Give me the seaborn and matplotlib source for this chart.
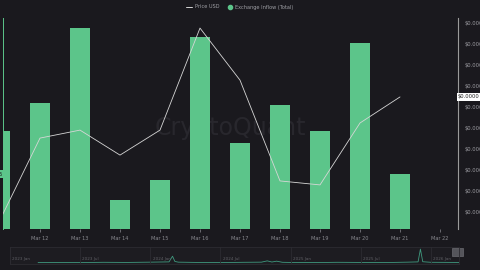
import numpy as np
import pandas as pd
import seaborn as sns
import matplotlib.pyplot as plt
from matplotlib.lines import Line2D
from matplotlib.patches import Rectangle

dates = ["Mar 11", "Mar 12", "Mar 13", "Mar 14", "Mar 15", "Mar 16",
         "Mar 17", "Mar 18", "Mar 19", "Mar 20", "Mar 21", "Mar 22"]
inflow = [98, 126, 201, 29, 49, 192, 86, 124, 98, 186, 55]
price_usd = [6.3e-8, 45.3e-8, 49.1e-8, 37.2e-8, 49.1e-8, 97.7e-8,
             72.9e-8, 24.9e-8, 23.0e-8, 52.5e-8, 64.9e-8]
price_ticks = [1e-7, 2e-7, 3e-7, 4e-7, 5e-7, 6e-7, 7e-7, 8e-7, 9e-7, 10e-7]

# navigator overview (months since 2023 Jan)
nav_months = [2.4, 4, 6, 8, 10, 12, 13.6, 13.9, 14.1, 14.4, 16, 18, 20, 21.5, 22.0,
              22.4, 22.8, 23.3, 24, 26, 28, 30, 32, 34, 34.9, 35.1, 35.3, 36, 38.4]
nav_values = [1.0, 1.1, 1.0, 1.2, 1.1, 1.3, 1.5, 5.5, 1.8, 1.3, 1.1, 1.0, 1.2, 1.3, 2.2,
              1.4, 2.0, 1.2, 1.1, 1.0, 1.2, 1.1, 1.0, 1.3, 1.5, 10.5, 1.6, 1.2, 1.1]
nav_labels = ["2023 Jan", "2023 Jul", "2024 Jan", "2024 Jul",
              "2025 Jan", "2025 Jul", "2026 Jan"]

bg = "#1a191e"
green = "#5cc58a"
sns.set_theme(style="dark")

fig = plt.figure(figsize=(4.8, 2.7), dpi=100, facecolor=bg)
ax = fig.add_axes([3 / 480, 1 - 229 / 270, 455 / 480, 211 / 270])
ax.set_facecolor(bg)

df = pd.DataFrame({"date": dates[:len(inflow)], "inflow": inflow})
sns.barplot(data=df, x="date", y="inflow", order=dates, color=green,
            saturation=1, width=0.5, edgecolor=green, linewidth=0, ax=ax)
ax.set_xlim(0.075, 11.45)
ax.set_ylim(0, 211)
ax.set_xlabel("")
ax.set_ylabel("")
ax.set_yticks([])
ax.tick_params(axis="x", colors="#8a8a90", labelsize=3.6, length=2, width=0.5,
               pad=3, bottom=True, direction="out")
for lab in ax.get_xticklabels():
    lab.set_color("#8a8a90")
for s in ["top", "right", "bottom"]:
    ax.spines[s].set_visible(False)
ax.spines["left"].set_color(green)
ax.spines["left"].set_linewidth(0.7)
ax.text(0.0, inflow[-1], "55", transform=ax.get_yaxis_transform(), ha="right",
        va="center", fontsize=3.5, color=bg, clip_on=False,
        bbox=dict(boxstyle="square,pad=0.3", fc=green, ec="none"))
ax.text(0.5, 0.48, "CryptoQuant", transform=ax.transAxes, ha="center", va="center",
        fontsize=17, color="#28272d", zorder=0)

ax2 = ax.twinx()
sns.lineplot(x=np.arange(len(price_usd)), y=price_usd, color="#d6d6d6",
             linewidth=0.6, ax=ax2)
ax2.set_ylim(0.2e-7, 10.25e-7)
ax2.set_yticks(price_ticks)
ax2.set_yticklabels([f"${v:.4f}" for v in price_ticks])
ax2.tick_params(axis="y", colors="#9a9aa0", labelsize=3.8, length=0, pad=5)
for s in ["top", "left", "bottom"]:
    ax2.spines[s].set_visible(False)
ax2.spines["right"].set_color("#9a9a9a")
ax2.spines["right"].set_linewidth(0.8)
ax2.text(1.0, price_usd[-1], f"${price_usd[-1]:.4f}", transform=ax2.get_yaxis_transform(),
         ha="left", va="center", fontsize=3.8, color="#222", clip_on=False,
         bbox=dict(boxstyle="square,pad=0.25", fc="white", ec="none"))

handles = [Line2D([0], [0], color="#d6d6d6", lw=0.7),
           Line2D([0], [0], marker="o", color="none", markerfacecolor=green,
                  markeredgecolor=green, markersize=3)]
leg = fig.legend(handles, ["Price USD", "Exchange Inflow (Total)"], loc="upper center",
                 bbox_to_anchor=(0.5, 1.0), ncol=2, frameon=False, fontsize=3.6,
                 handlelength=1.2, handletextpad=0.5, columnspacing=1.5)
for t in leg.get_texts():
    t.set_color("#a0a0a6")

nav = fig.add_axes([10 / 480, 6 / 270, 449 / 480, 17 / 270])
nav.set_facecolor("#1d1c21")
sns.lineplot(x=nav_months, y=nav_values, color="#3f9a7f", linewidth=0.6, ax=nav)
nav.set_xlim(0, 38.4)
nav.set_ylim(0, 12)
nav.set_xticks([])
nav.set_yticks([])
nav.set_xlabel("")
nav.set_ylabel("")
for i, lab in enumerate(nav_labels):
    nav.axvline(i * 6, color="#2c2b31", lw=0.6)
    nav.text(i * 6 + 0.2, 3.2, lab, fontsize=3.0, color="#5e5e64", va="center")
for s in nav.spines.values():
    s.set_color("#2c2b31")
    s.set_linewidth(0.6)
nav.add_patch(Rectangle((37.8, 6), 0.9, 5, fc="#55555b", ec="#77777d", lw=0.4,
                        clip_on=False))

fig.savefig("out.png", dpi=100, facecolor=bg)
